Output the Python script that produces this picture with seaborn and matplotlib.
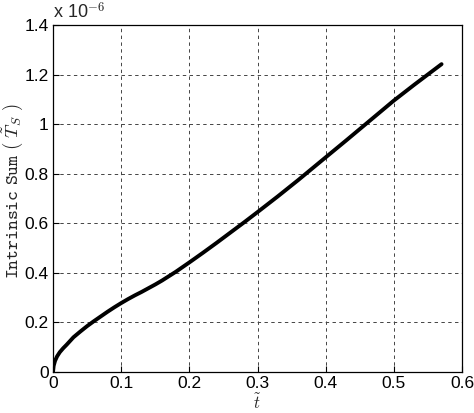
import numpy as np
import pandas as pd
import matplotlib
matplotlib.use("Agg")
import matplotlib.pyplot as plt
import seaborn as sns

# ================= DATA =================
# t values and intrinsic sum (in units of 1e-6)
t_vals = [0, 0.001, 0.003, 0.006, 0.01, 0.015, 0.02, 0.03, 0.04, 0.05,
          0.06, 0.07, 0.08, 0.09, 0.1, 0.11, 0.12, 0.13, 0.14, 0.15,
          0.16, 0.18, 0.2, 0.22, 0.24, 0.26, 0.28, 0.3, 0.33, 0.36,
          0.4, 0.43, 0.46, 0.5, 0.53, 0.57]
sum_vals = [0, 0.025, 0.045, 0.063, 0.08, 0.096, 0.11, 0.14, 0.163, 0.185,
            0.205, 0.224, 0.243, 0.261, 0.278, 0.294, 0.309, 0.323, 0.338, 0.353,
            0.369, 0.404, 0.442, 0.481, 0.521, 0.562, 0.603, 0.645, 0.709, 0.775,
            0.866, 0.934, 1.003, 1.095, 1.159, 1.242]
x_ticks = [0, 0.1, 0.2, 0.3, 0.4, 0.5, 0.6]
y_ticks = [0, 0.2, 0.4, 0.6, 0.8, 1.0, 1.2, 1.4]
y_tick_labels = ["0", "0.2", "0.4", "0.6", "0.8", "1", "1.2", "1.4"]

df = pd.DataFrame({"t": t_vals, "s": sum_vals})

# ================= STYLE =================
sns.set_theme(style="ticks")
plt.rcParams["font.family"] = ["Liberation Sans", "DejaVu Sans"]
plt.rcParams["mathtext.fontset"] = "cm"

fig = plt.figure(figsize=(4.74, 4.13), dpi=100)
ax = fig.add_axes([0.1118, 0.0993, 0.8629, 0.8402])

sns.lineplot(data=df, x="t", y="s", ax=ax, color="black", linewidth=2.8)

ax.set_xlim(0, 0.6)
ax.set_ylim(0, 1.4)
ax.set_xticks(x_ticks)
ax.set_xticklabels([f"{v:g}" for v in x_ticks])
ax.set_yticks(y_ticks)
ax.set_yticklabels(y_tick_labels)
ax.tick_params(direction="in", length=4, width=0.8, colors="black",
               labelsize=12.5, pad=3, top=False, right=False)

ax.grid(True, linestyle=(0, (3.5, 3.5)), color="#444444", linewidth=0.7)
for sp in ax.spines.values():
    sp.set_visible(True)
    sp.set_color("black")
    sp.set_linewidth(0.9)

ax.set_xlabel(r"$\tilde{t}$", fontsize=12)
ax.xaxis.set_label_coords(0.5, -0.058)
ax.set_ylabel(r"$\mathtt{Intrinsic\ Sum\ (\ }\tilde{T}_S\mathtt{\ )}$",
              fontsize=13.5)
ax.yaxis.set_label_coords(-0.068, 0.52)

ax.text(0.0, 1.008, r"x 10$^{-6}$", transform=ax.transAxes,
        fontsize=13, ha="left", va="bottom")

fig.savefig("out.png", dpi=100)
